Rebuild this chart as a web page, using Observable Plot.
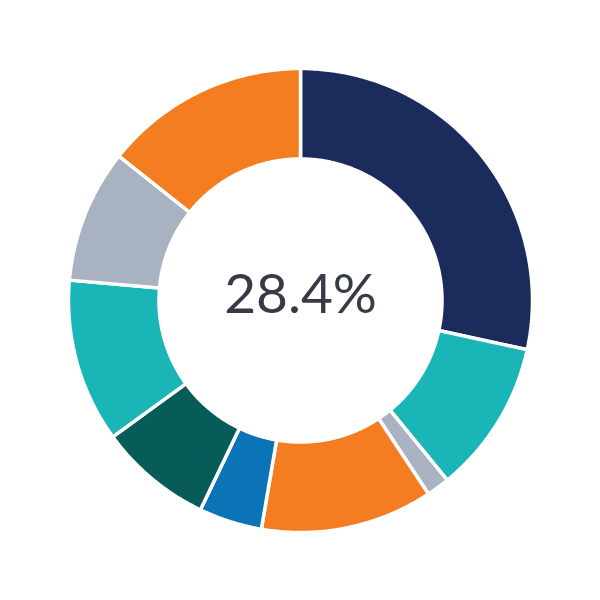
<!DOCTYPE html>
<html>
<head>
<meta charset="utf-8">
<script src="https://cdn.jsdelivr.net/npm/d3@7"></script>
<script src="https://cdn.jsdelivr.net/npm/@observablehq/plot@0.6"></script>
<style>
  html, body { margin: 0; padding: 0; background: #fff; }
</style>
</head>
<body>
<div id="chart"></div>
<script>
const categories = ["A", "B", "C", "D", "E", "F", "G", "H", "I"];
const values = [28.4, 10.7, 1.6, 12.0, 4.4, 7.9, 11.4, 9.3, 14.3];
const colors = ["#1b2b5b", "#1ab5b6", "#a8b2c0", "#f37d20", "#0b74b6", "#075b59", "#1ab5b6", "#a8b2c0", "#f37d20"];
const centerLabel = "28.4%";

const outerR = 1;
const innerR = 0.61;
const arcs = d3.pie().sort(null).value(d => d)(values);

// Build polygon outlines for each slice (data-space, unit circle)
const pts = [];
arcs.forEach((a, i) => {
  const steps = Math.max(4, Math.ceil((a.endAngle - a.startAngle) / 0.01));
  const ring = [];
  for (let s = 0; s <= steps; s++) {
    const t = a.startAngle + (a.endAngle - a.startAngle) * s / steps;
    ring.push([outerR * Math.sin(t), outerR * Math.cos(t)]);
  }
  for (let s = steps; s >= 0; s--) {
    const t = a.startAngle + (a.endAngle - a.startAngle) * s / steps;
    ring.push([innerR * Math.sin(t), innerR * Math.cos(t)]);
  }
  ring.push(ring[0]);
  ring.forEach(([x, y]) => pts.push({cat: categories[i], color: colors[i], x, y}));
});

const half = 300 / 232;
const chart = Plot.plot({
  width: 600,
  height: 600,
  margin: 0,
  x: {domain: [-half, half], axis: null},
  y: {domain: [-half, half], axis: null},
  marks: [
    Plot.line(pts, {x: "x", y: "y", z: "cat", fill: "color", stroke: "white", strokeWidth: 3.5, strokeLinejoin: "miter"}),
    Plot.text([centerLabel], {x: () => 0, y: () => 0.022, text: d => d, fontSize: 55, fontWeight: 400, fill: "#363b47", fontFamily: "Lato, 'Open Sans', sans-serif"})
  ]
});
document.getElementById("chart").appendChild(chart);
</script>
</body>
</html>
